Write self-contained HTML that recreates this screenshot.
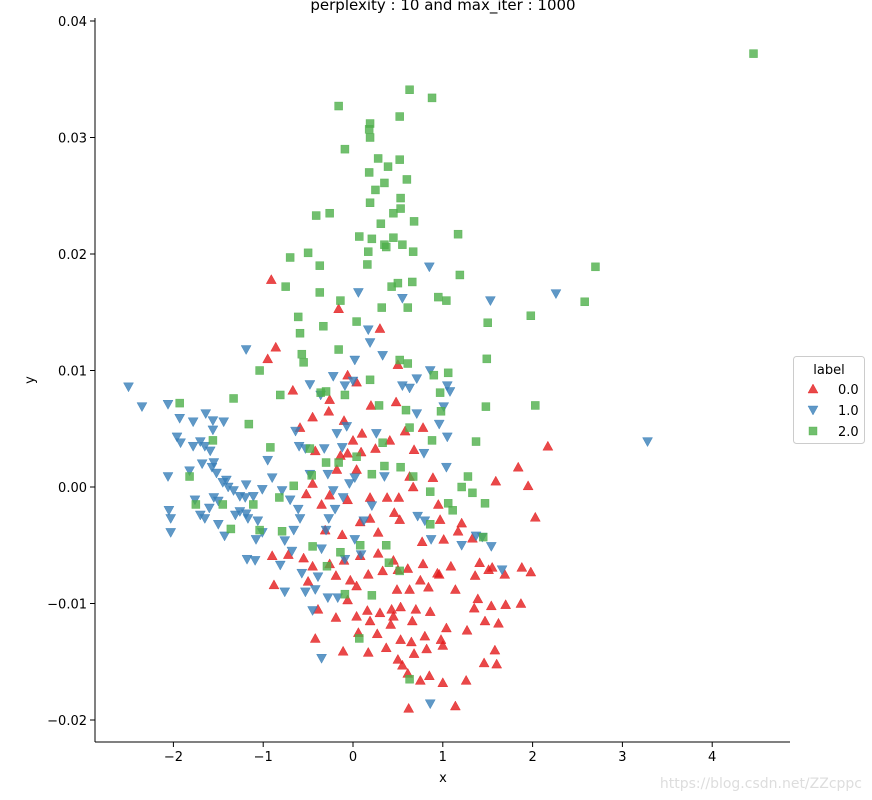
<!DOCTYPE html>
<html><head><meta charset="utf-8"><style>
body{margin:0;background:#fff;width:872px;height:800px;overflow:hidden}
svg{display:block;font-family:"DejaVu Sans","Liberation Sans",sans-serif}
</style></head><body>
<svg id="chart" width="872" height="800" xmlns="http://www.w3.org/2000/svg"></svg>
<script>
const redX=[-0.91,-0.16,0.30,-0.95,-0.86,-0.67,-0.26,-0.06,0.04,0.20,0.48,0.50,0.78,-0.59,-0.45,-0.27,-0.10,0.00,0.10,0.25,0.41,0.58,0.68,-0.42,-0.14,-0.06,0.09,0.04,-0.18,-0.45,-0.35,-0.52,-0.26,-0.06,0.19,0.38,0.67,0.63,0.51,0.89,0.97,0.95,1.21,1.84,1.95,2.03,2.17,1.59,-0.31,-0.12,0.08,0.19,0.28,0.52,0.46,0.77,1.01,1.17,1.33,1.41,1.55,1.69,1.88,1.98,1.36,1.09,0.94,0.78,0.61,0.45,0.28,0.08,-0.10,-0.26,-0.45,-0.55,-0.72,-0.90,-0.88,-0.50,-0.19,-0.03,0.04,0.17,0.33,0.49,0.63,0.84,0.96,1.14,1.35,1.39,1.54,1.87,1.51,1.70,1.62,1.47,1.27,1.04,0.86,0.70,0.53,0.43,0.30,0.16,0.04,-0.06,-0.19,-0.39,-0.42,-0.11,0.06,0.19,0.27,0.42,0.53,0.65,0.80,1.00,0.98,0.82,0.68,0.55,0.50,0.61,0.75,0.85,1.00,1.26,1.46,1.60,0.62,1.14,0.17,0.37,0.45,0.66,0.50,0.75,1.58];
const redY=[17.8,15.3,13.6,11.0,12.0,8.3,7.5,9.6,9.0,7.0,7.3,10.5,5.1,5.1,6.0,6.5,5.7,4.0,4.6,3.3,4.0,4.8,3.2,3.1,2.7,2.9,3.0,1.5,1.5,0.3,-1.5,-0.6,-0.7,-1.1,-0.9,-0.9,0.0,0.9,-0.9,0.8,-2.8,-1.5,-3.1,1.7,0.1,-2.6,3.5,0.5,-3.7,-4.1,-3.0,-2.7,-3.9,-2.8,-2.2,-4.7,-4.5,-3.8,-4.4,-6.5,-6.9,-7.5,-6.9,-7.3,-7.6,-6.8,-7.4,-6.6,-7.0,-6.3,-5.7,-5.9,-6.3,-6.6,-6.8,-6.1,-5.8,-5.9,-8.4,-8.1,-7.6,-8.0,-8.5,-7.5,-7.2,-8.8,-8.8,-8.6,-7.5,-8.8,-10.4,-9.6,-10.2,-10.0,-7.1,-10.1,-11.7,-11.5,-12.3,-12.1,-10.7,-10.5,-10.3,-10.5,-10.8,-10.6,-11.1,-9.7,-11.2,-10.5,-13.0,-14.1,-12.5,-11.5,-12.6,-11.8,-13.1,-13.3,-12.8,-13.6,-13.1,-13.9,-14.3,-15.3,-14.8,-16.0,-16.6,-16.2,-16.8,-16.6,-15.1,-15.2,-19.0,-18.8,-14.2,-13.8,-11.1,-11.5,-7.1,-8.0,-14.0];
const blueX=[-2.50,-2.35,-2.06,-1.93,-1.78,-1.64,-1.56,-1.44,-1.96,-1.92,-1.78,-1.65,-1.59,-1.55,-1.57,-1.52,-1.41,-1.82,-1.76,-1.70,-1.65,-1.60,-1.55,-1.50,-1.45,-1.39,-1.33,-1.26,-1.19,-1.26,-1.19,-1.20,-1.11,-1.06,-1.01,-1.08,-1.09,-1.18,-1.17,-1.19,-1.01,-0.95,-0.90,-0.79,-0.70,-0.61,-0.59,-0.66,-0.76,-0.81,-0.68,-0.57,-0.53,-0.42,-0.35,-0.39,-0.35,-0.30,-0.27,-0.20,-0.11,-0.04,0.02,-0.12,-0.07,-0.18,-0.36,-0.22,-0.48,-0.64,-0.60,-0.53,-0.48,-0.32,-0.28,-0.22,-0.09,0.00,0.02,0.06,0.17,0.19,0.33,0.55,0.63,0.71,0.79,0.96,0.71,0.86,1.05,1.08,1.01,1.05,1.04,1.21,1.37,1.44,1.54,1.66,1.53,0.85,0.55,2.26,3.28,0.86,0.26,0.35,0.21,0.12,0.02,-0.09,-0.28,-0.45,-0.76,-0.17,0.09,-1.31,-1.43,-1.50,-2.03,-2.03,-2.05,-2.06,-1.56,-1.68,-1.70,0.72,0.80,0.87];
const blueY=[8.6,6.9,7.1,5.9,5.6,6.3,5.7,5.6,4.3,3.8,3.5,3.5,3.1,2.1,1.7,1.2,0.6,1.4,-1.1,-2.4,-2.7,-1.8,-0.9,-1.2,0.4,0.0,-0.3,-0.8,0.2,-2.1,-2.3,-0.9,-0.8,-2.9,-3.9,-4.5,-6.3,-6.2,-2.7,11.8,-0.2,2.3,0.8,-0.3,-1.1,-1.9,-2.7,-3.7,-4.6,-6.7,-5.5,-7.4,-9.0,-8.8,-14.7,-7.7,-5.3,-3.7,-2.7,-1.9,-0.9,0.3,0.8,3.4,5.2,4.6,7.9,9.5,8.8,4.8,3.5,3.3,1.1,3.3,1.1,-0.3,8.7,9.1,10.9,16.7,13.5,12.4,11.3,8.7,8.5,6.3,2.9,5.4,9.3,10.0,8.7,8.2,6.9,4.3,1.7,-5.0,-4.2,-4.3,-5.1,-7.1,16.0,18.9,16.2,16.6,3.9,-18.6,4.6,0.9,-1.6,-2.9,-4.5,-6.2,-9.5,-10.6,-9.0,-9.5,-5.8,-2.4,-4.2,-3.2,-2.7,-3.9,-2.0,0.9,4.9,2.0,3.9,-2.5,-2.9,-4.5];
const greenX=[4.46,0.63,0.88,-0.16,0.52,0.19,0.18,-0.09,0.19,0.28,0.52,0.60,0.35,0.18,0.25,0.39,0.53,0.45,0.53,0.31,0.68,0.45,0.21,0.55,0.37,0.07,-0.41,-0.26,-0.70,-0.50,-0.37,0.17,0.16,0.19,0.35,0.67,1.17,1.19,0.66,0.43,0.50,-0.75,-0.14,-0.37,0.32,0.61,0.95,1.04,1.50,1.98,2.58,2.70,-0.61,-0.59,-0.57,-0.55,-0.33,-0.16,0.04,0.52,0.19,0.61,1.06,0.90,0.97,0.98,1.49,-1.04,-0.81,-1.33,-1.93,-0.36,-0.30,-0.09,0.29,0.59,1.48,2.03,-1.56,-1.16,-0.92,-0.48,-0.30,0.04,0.33,0.63,0.88,1.37,1.33,1.06,1.28,0.86,0.67,0.53,0.35,0.21,-0.16,-0.46,-0.66,-0.82,-1.11,-1.45,-1.82,-1.75,-1.36,-1.04,-0.79,-0.45,-0.29,-0.14,0.08,0.37,0.52,0.40,0.86,1.11,1.21,1.45,1.47,0.63,0.07,-0.09,0.21];
const greenY=[37.2,34.1,33.4,32.7,31.8,31.2,30.7,29.0,30.0,28.2,28.1,26.4,26.1,27.0,25.5,27.5,24.8,23.5,23.9,22.6,22.8,21.4,21.3,20.8,20.6,21.5,23.3,23.5,19.7,20.1,19.0,20.2,19.1,24.4,20.8,20.2,21.7,18.2,17.6,17.2,17.5,17.2,16.0,16.7,15.4,15.4,16.3,16.0,14.1,14.7,15.9,18.9,14.6,13.2,11.4,10.7,13.8,11.8,14.2,10.9,9.2,10.6,9.8,9.6,8.1,6.5,11.0,10.0,7.9,7.6,7.2,8.1,8.2,7.9,7.0,6.6,6.9,7.0,4.0,5.4,3.4,3.3,2.1,2.6,3.8,5.1,4.0,3.9,-0.5,-1.4,0.9,-0.4,0.9,1.7,1.8,1.1,2.1,1.0,0.1,-0.9,-1.5,-1.5,0.9,-1.5,-3.6,-3.7,-3.8,-5.1,-6.8,-5.6,-5.0,-5.0,-7.2,-6.5,-3.2,-2.0,0.0,-4.3,-1.4,-16.5,-13.0,-9.2,-9.3];
const xTicks=[-2,-1,0,1,2,3,4];
const yTicks=[-0.02,-0.01,0.00,0.01,0.02,0.03,0.04];
const yTickLabels=["\u22120.02","\u22120.01","0.00","0.01","0.02","0.03","0.04"];
const xTickLabels=["\u22122","\u22121","0","1","2","3","4"];

const NS="http://www.w3.org/2000/svg";
const svg=document.getElementById('chart');
const L=95,R=790,T=18,B=742;
const xs=v=>353+v*89.8;
const ys=v=>487-v*11650;
function mk(tag,attrs,parent){const e=document.createElementNS(NS,tag);for(const k in attrs)e.setAttribute(k,attrs[k]);(parent||svg).appendChild(e);return e;}

const title=mk('text',{x:443,y:10,'text-anchor':'middle','font-size':15,fill:'#000'});
title.textContent='perplexity : 10 and max_iter : 1000';



const gx=mk('g',{});


mk('line',{x1:L,y1:B,x2:R,y2:B,stroke:'#000','stroke-width':1},gx);
xTicks.forEach((v,i)=>{
  mk('line',{x1:xs(v),y1:B,x2:xs(v),y2:B+5,stroke:'#000'},gx);
  const t=mk('text',{x:xs(v),y:B+19,'text-anchor':'middle','font-size':13},gx);
  t.textContent=xTickLabels[i];
  
  
});
const xl=mk('text',{x:443,y:782,'text-anchor':'middle','font-size':13},gx);
xl.textContent='x';



const gy=mk('g',{});


mk('line',{x1:L,y1:T,x2:L,y2:B,stroke:'#000','stroke-width':1},gy);
yTicks.forEach((v,i)=>{
  mk('line',{x1:L-5,y1:ys(v),x2:L,y2:ys(v),stroke:'#000'},gy);
  const t=mk('text',{x:L-8,y:ys(v)+5,'text-anchor':'end','font-size':13},gy);
  t.textContent=yTickLabels[i];
  
  
});
const yl=mk('text',{x:34,y:380,'text-anchor':'middle','font-size':13,transform:'rotate(-90 34 380)'},gy);
yl.textContent='y';



function triUp(cx,cy,c,p){return mk('polygon',{points:`${cx},${cy-5} ${cx-5},${cy+4} ${cx+5},${cy+4}`,fill:c,'fill-opacity':0.8,stroke:c,'stroke-opacity':0.8,'stroke-width':0.5},p);}
function triDown(cx,cy,c,p){return mk('polygon',{points:`${cx},${cy+5} ${cx-5},${cy-4} ${cx+5},${cy-4}`,fill:c,'fill-opacity':0.8,stroke:c,'stroke-opacity':0.8,'stroke-width':0.5},p);}
function sq(cx,cy,c,p){return mk('rect',{x:cx-4,y:cy-4,width:8,height:8,fill:c,'fill-opacity':0.8,stroke:c,'stroke-opacity':0.8,'stroke-width':0.5},p);}

const RED='#e41a1c',BLUE='#377eb8',GREEN='#4daf4a';
const gr=mk('g',{});


redX.forEach((v,i)=>{const e=triUp(xs(v),ys(redY[i]/1000),RED,gr);

});
const gb=mk('g',{});


blueX.forEach((v,i)=>{const e=triDown(xs(v),ys(blueY[i]/1000),BLUE,gb);

});
const gg=mk('g',{});


greenX.forEach((v,i)=>{const e=sq(xs(v),ys(greenY[i]/1000),GREEN,gg);

});

const lg=mk('g',{});


mk('rect',{x:793.5,y:356.5,width:71,height:87,rx:3,fill:'#fff','fill-opacity':0.8,stroke:'#ccc'},lg);
const lt=mk('text',{x:829,y:374,'text-anchor':'middle','font-size':13},lg);
lt.textContent='label';


const names=['0.0','1.0','2.0'];
const fns=[triUp,triDown,sq],cols=[RED,BLUE,GREEN];
names.forEach((n,i)=>{
  const y=389+i*21;
  const ge=mk('g',{},lg);
  
  
  fns[i](813,y,cols[i],ge);
  const t=mk('text',{x:838,y:y+5,'font-size':13},ge);
  t.textContent=n;
});

const wm=mk('text',{x:862,y:788,'text-anchor':'end','font-size':14,fill:'#ddd'});
wm.textContent='https://blog.csdn.net/ZZcppc';


</script>
</body></html>
